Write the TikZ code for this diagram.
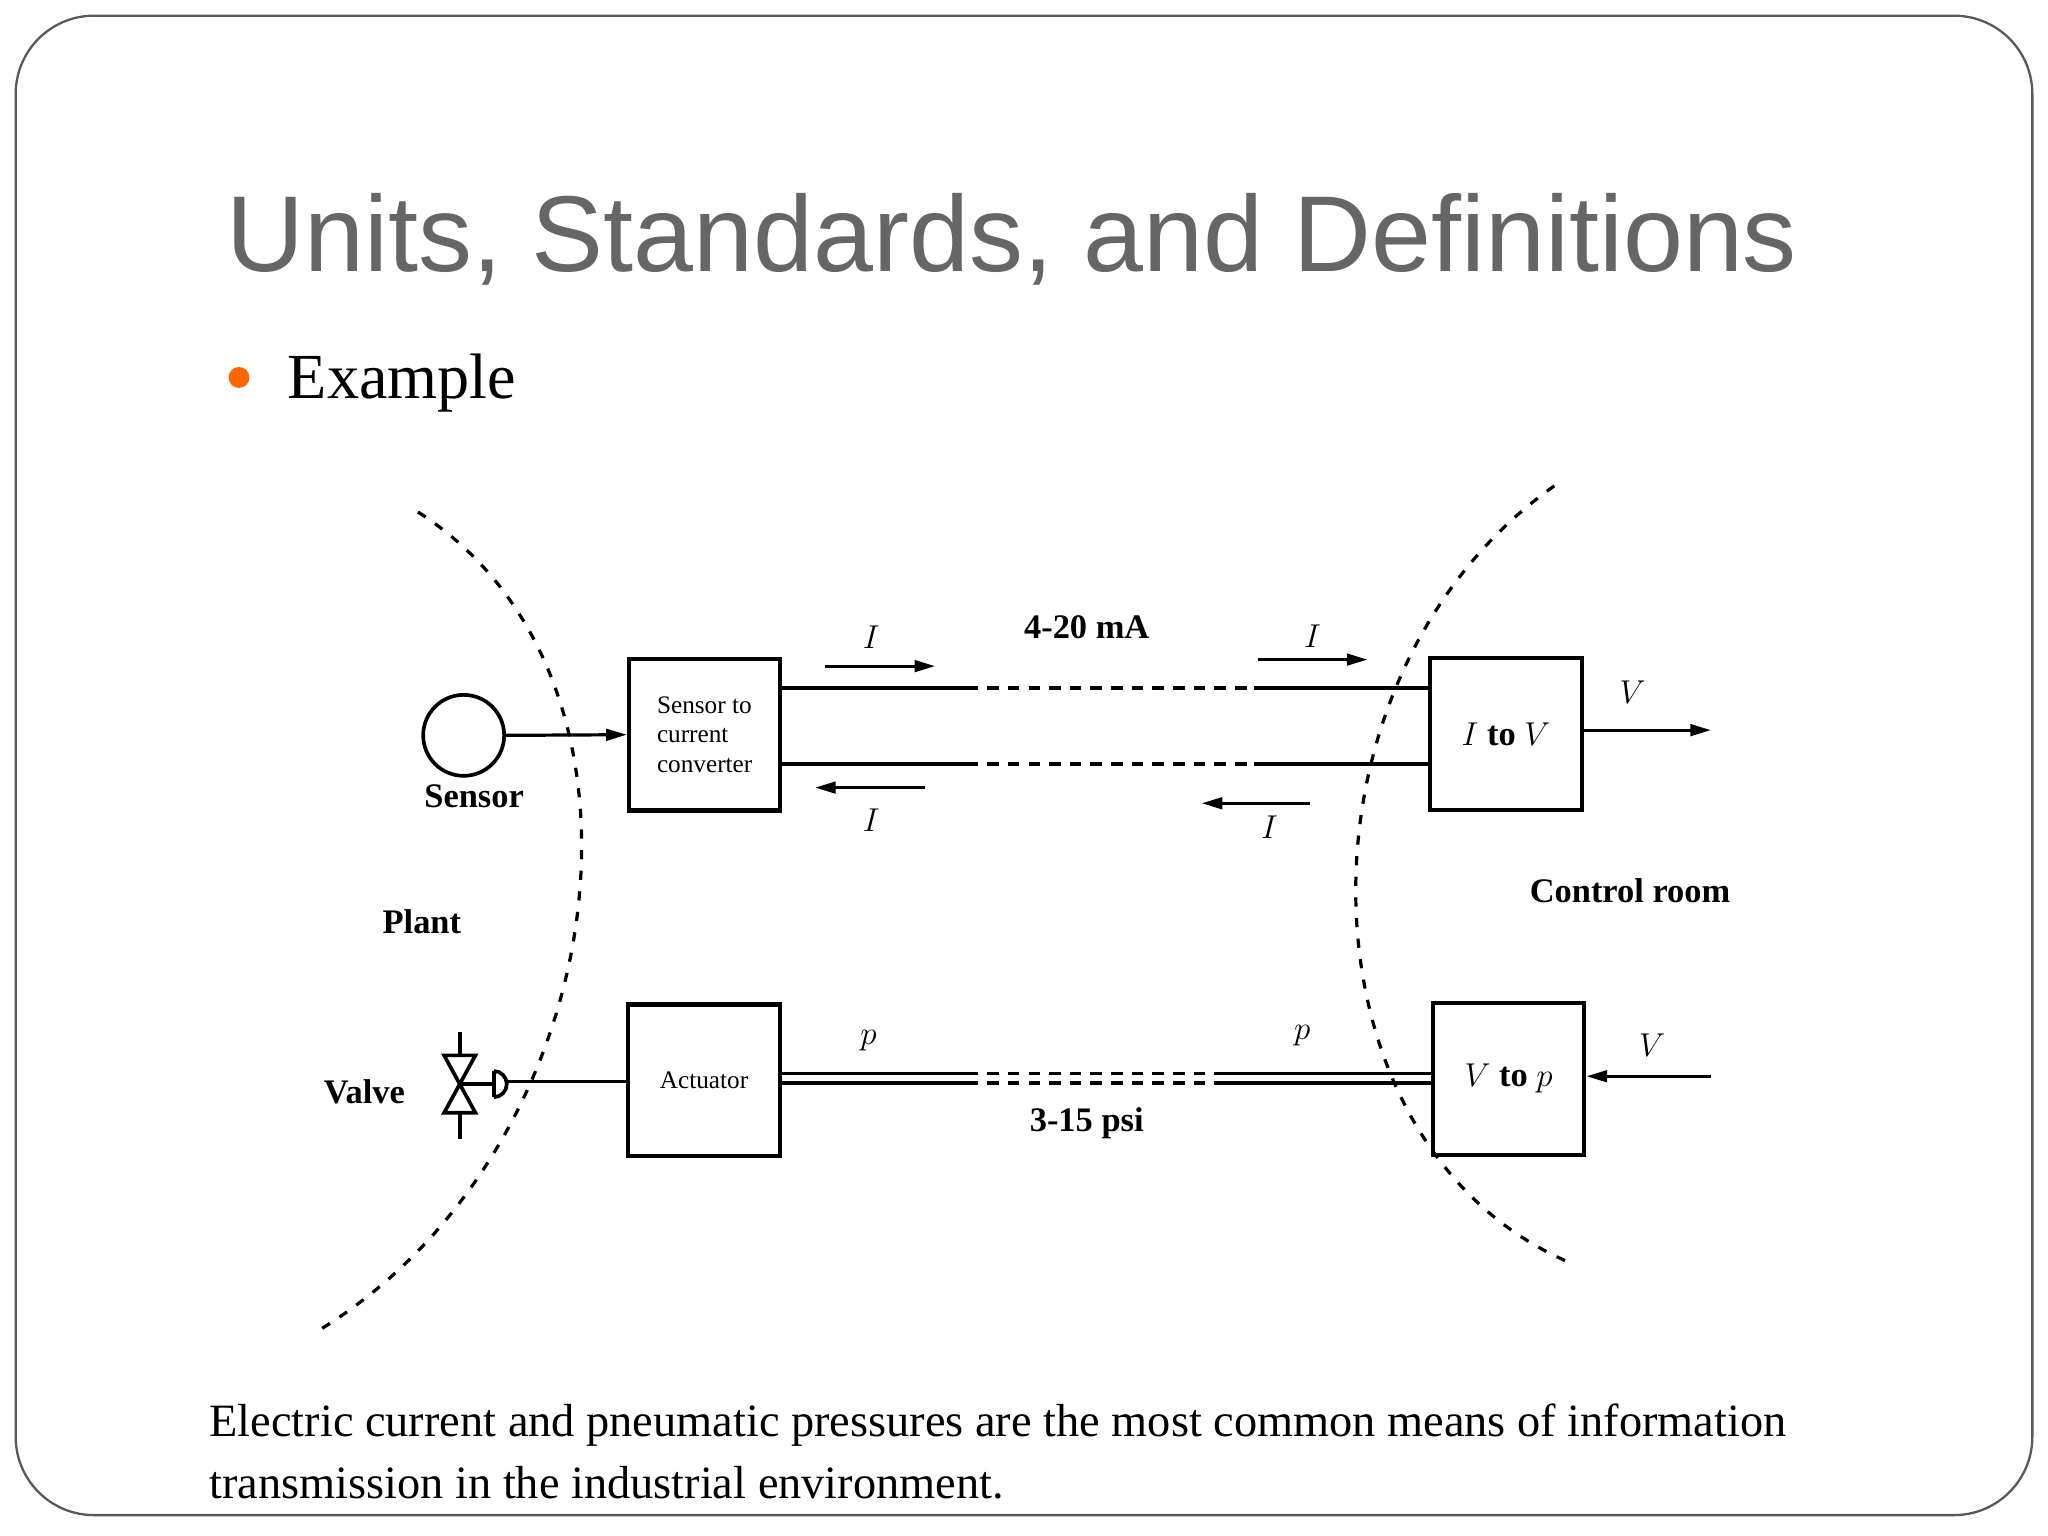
\documentclass[tikz,border=0pt]{standalone}
\usepackage{fontspec}
\setmainfont{Liberation Serif}
\newfontfamily\titlefont{Liberation Sans}
\usetikzlibrary{arrows.meta}
\begin{document}
\begin{tikzpicture}[x=0.02cm,y=-0.02cm,
  line/.style={line width=1.6pt},
  dsh/.style={line width=1.6pt,dash pattern=on 5pt off 4pt},
  bnd/.style={line width=1.4pt,dash pattern=on 4pt off 5pt},
  blk/.style={draw,line width=1.8pt,minimum width=2.32cm,minimum height=2.32cm,inner sep=1pt,align=left},
  lab/.style={font=\bfseries\fontsize{15}{17}\selectfont},
  arr/.style={line width=1.4pt,-{Triangle[length=9pt,width=5pt]}}]
\useasboundingbox (0,0) rectangle (1568,1176);
\fill[white] (0,0) rectangle (1568,1176);
\draw[gray!70!black,line width=1pt,rounded corners=1.2cm] (12,12) rectangle (1556,1160);
\node[anchor=base west,inner sep=0,text=black!60,font=\titlefont\fontsize{47}{54}\selectfont] (title) at (173,208) {Units, Standards, and Definitions};
\fill[orange!80!red] (183,289) circle (8);
\node[anchor=base west,inner sep=0,font=\fontsize{28}{32}\selectfont] (ex) at (220,305) {Example};
\node[anchor=base west,inner sep=0,align=left,font=\fontsize{20.2}{27}\selectfont] (cap) at (160,1147) {Electric current and pneumatic pressures are the most common means of information\\transmission in the industrial environment.};
% boundaries
\draw[bnd] (320,392) .. controls (520,520) and (470,880) .. (245,1018);
\draw[bnd] (1190,372) .. controls (980,520) and (990,880) .. (1205,968);
% top
\node[circle,draw,line width=1.6pt,minimum size=1.24cm] (sens) at (355,563) {};
\node[blk,font=\fontsize{11}{13}\selectfont] (conv) at (539.5,562.5) {Sensor to\\current\\converter};
\draw[arr] (sens.east) -- (conv.west);
\node[lab] (slab) at (363,610) {Sensor};
\node[blk,align=center,font=\bfseries\fontsize{15}{17}\selectfont] (itov) at (1153,562) {$I$ to $V$};
\coordinate (t1) at (740,527); \coordinate (t2) at (960,527);
\coordinate (b1) at (740,585); \coordinate (b2) at (960,585);
\draw[line] (conv.east|-t1) -- (t1); \draw[dsh] (t1) -- (t2); \draw[line] (t2) -- (itov.west|-t2);
\draw[line] (conv.east|-b1) -- (b1); \draw[dsh] (b1) -- (b2); \draw[line] (b2) -- (itov.west|-b2);
\coordinate (a1) at (632,510); \coordinate (a1e) at (716,510);
\coordinate (a2) at (963,505); \coordinate (a2e) at (1047,505);
\coordinate (a3) at (708,603); \coordinate (a3e) at (624,603);
\coordinate (a4) at (1003,615); \coordinate (a4e) at (920,615);
\draw[arr] (a1) -- (a1e); \draw[arr] (a2) -- (a2e); \draw[arr] (a3) -- (a3e); \draw[arr] (a4) -- (a4e);
\node[lab] (i1) at (667,488) {$I$}; \node[lab] (i2) at (1005,487) {$I$};
\node[lab] (i3) at (667,628) {$I$}; \node[lab] (i4) at (972,633) {$I$};
\node[lab] (ma) at (832,480) {4-20 mA};
\coordinate (vout) at (1310,559);
\draw[arr] (itov.east|-vout) -- (vout);
\node[lab] (v1) at (1250,530) {$V$};
\node[lab] (cr) at (1248,682) {Control room};
\node[lab] (pl) at (323,706) {Plant};
% bottom
\node[blk,font=\fontsize{11}{13}\selectfont,align=center] (act) at (539,827) {Actuator};
\node[blk,align=center,font=\bfseries\fontsize{15}{17}\selectfont] (vtop) at (1155,826) {$V$ to $p$};
\node[lab] (vl) at (279,836) {Valve};
% valve symbol
\draw[line] (340,808) -- (364,808) -- (340,852) -- (364,852) -- cycle;
\draw[line] (352,790) -- (352,808); \draw[line] (352,852) -- (352,872);
\draw[line] (352,830) -- (378,830);
\draw[line] (378,820) -- (378,840); \draw[line] (378,820) arc (-90:90:10);
\coordinate (vv) at (388,828);
\draw[line] (vv) -- (act.west|-vv);
\coordinate (p1) at (740,822); \coordinate (p2) at (930,822);
\coordinate (q1) at (740,829); \coordinate (q2) at (930,829);
\draw[line] (act.east|-p1) -- (p1); \draw[dsh] (p1) -- (p2); \draw[line] (p2) -- (vtop.west|-p2);
\draw[line] (act.east|-q1) -- (q1); \draw[dsh] (q1) -- (q2); \draw[line] (q2) -- (vtop.west|-q2);
\node[lab] (pp1) at (665,797) {$p$}; \node[lab] (pp2) at (997,793) {$p$};
\node[lab] (psi) at (832,860) {3-15 psi};
\coordinate (vin) at (1310,824);
\draw[arr] (vin) -- (vtop.east|-vin);
\node[lab] (v2) at (1265,800) {$V$};
\end{tikzpicture}
\end{document}
